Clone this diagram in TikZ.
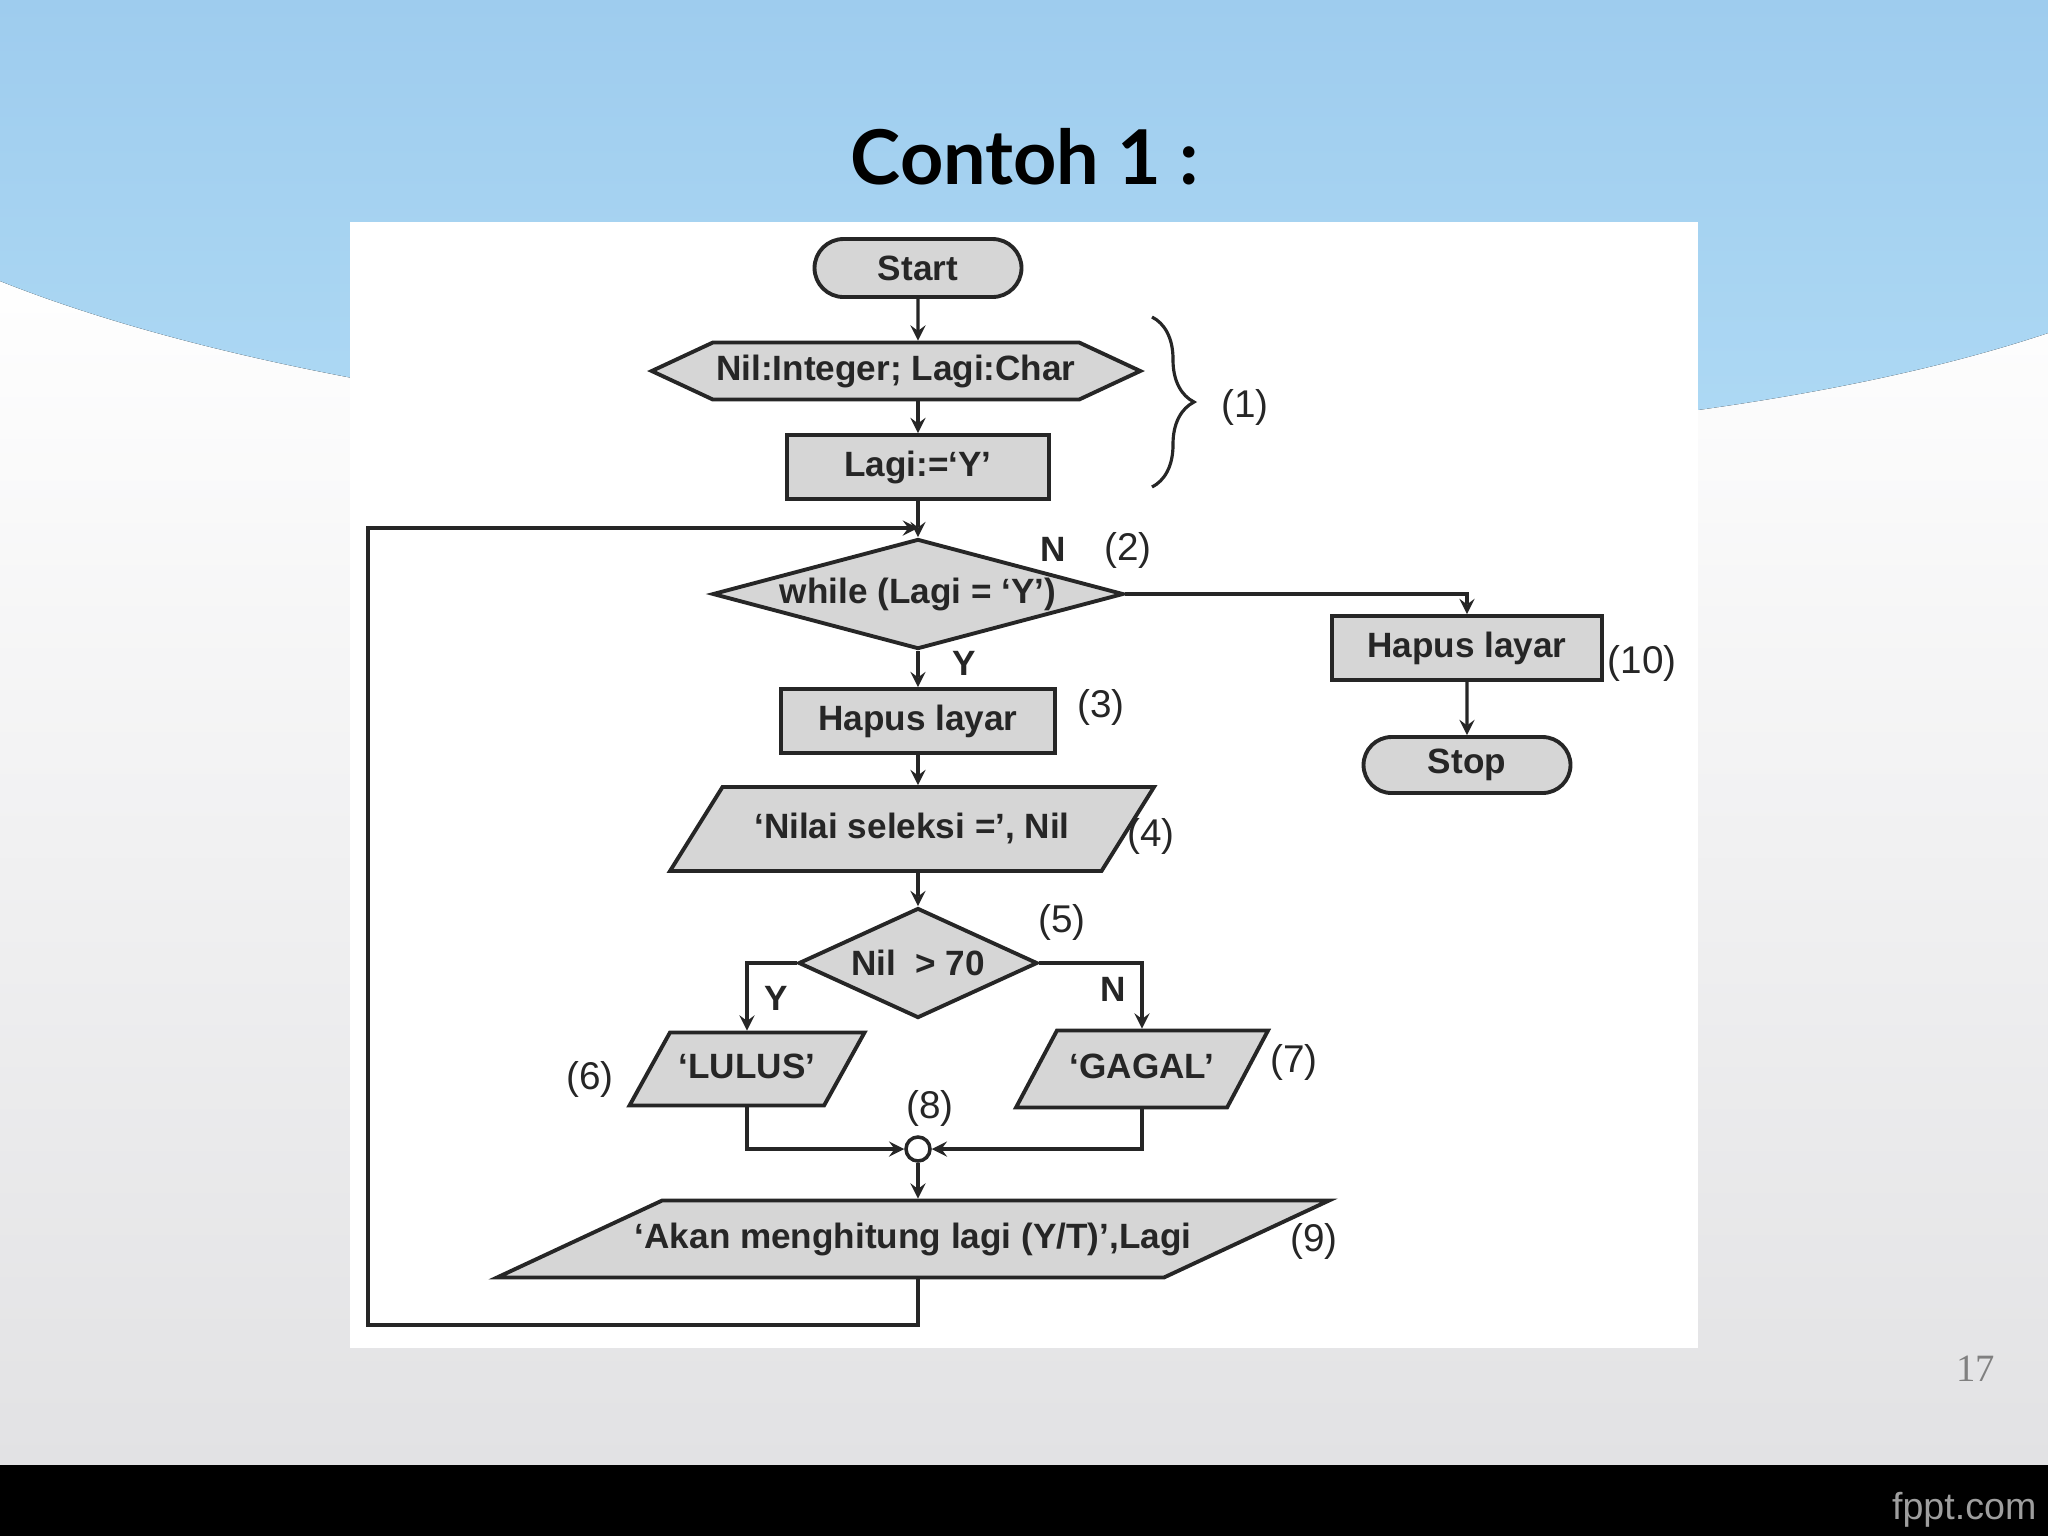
\documentclass[tikz,border=0pt]{standalone}
\usepackage{fontspec}
\setmainfont{Liberation Sans}
\newfontfamily\titlefont{Lato}
\newfontfamily\pagefont{Liberation Serif}
\usetikzlibrary{shapes.geometric,shapes.misc,shapes.symbols,decorations.pathreplacing}
\definecolor{skytop}{RGB}{158,204,238}
\definecolor{skylow}{RGB}{176,219,245}
\definecolor{slidegrey}{RGB}{226,226,228}
\definecolor{boxgrey}{RGB}{214,214,214}
\definecolor{ink}{RGB}{38,38,38}
\begin{document}
\begin{tikzpicture}[x=0.1mm,y=-0.1mm,>=stealth,
    every node/.style={text=ink},
    box/.style={draw=ink, line width=1.1pt, fill=boxgrey, inner sep=1pt,
        font=\fontsize{10}{12}\selectfont\bfseries},
    term/.style={box, rounded rectangle, minimum width=21.4mm, minimum height=5.8mm},
    proc/.style={box, rectangle, minimum width=#1, minimum height=6.4mm},
    prep/.style={box, signal, signal to=west and east, signal pointer angle=50,
        minimum width=48.8mm, minimum height=5.7mm},
    dec/.style={box, diamond, inner sep=0pt},
    io/.style={box, trapezium, trapezium stretches body=true,
        text height=2.6mm, text depth=0.7mm,
        trapezium left angle=#1, trapezium right angle=180-#1},
    flow/.style={draw=ink, line width=0.9pt},
    num/.style={font=\fontsize{11}{13}\selectfont},
    yn/.style={font=\fontsize{10}{12}\selectfont\bfseries}]
    % slide background
    \fill[top color=white, bottom color=slidegrey] (0,250) rectangle (2048,1465);
    \fill[top color=skytop, bottom color=skylow] (0,0) -- (2048,0) -- (2048,333)
        .. controls (1550,500) and (500,480) .. (0,281) -- cycle;
    \fill[white] (350,222) rectangle (1698,1348);
    \fill[black] (0,1465) rectangle (2048,1536);
    \node[anchor=base, font=\titlefont\bfseries\fontsize{21.5}{26}\selectfont, text=black]
        (title) at (1025,184) {Contoh 1 :};
    \node[anchor=base east, inner sep=0pt, font=\pagefont\fontsize{11}{13}\selectfont, text=black!50]
        (page) at (1996,1381) {17};
    \node[anchor=base east, inner sep=0pt, font=\fontsize{10.7}{13}\selectfont, text=black!38]
        (brand) at (2037,1519) {fppt.com};

    % flowchart
    \node[term] (start) at (918,268) {Start};
    \node[prep] (decl) at (896,371) {Nil:Integer; Lagi:Char};
    \node[proc=26.2mm] (init) at (918,467) {Lagi:=‘Y’};
    \coordinate (join) at (918,528);
    \node[dec, minimum width=41.1mm, minimum height=11mm,
        label={[font=\fontsize{10}{12}\selectfont\bfseries]center:while (Lagi = ‘Y’)}]
        (loop) at (918,594) {};
    \node[proc=27.4mm] (clr) at (918,721) {Hapus layar};
    \node[io=58, minimum width=48.4mm, inner ysep=2.55mm] (show) at (912,829)
        {‘Nilai seleksi =’, Nil};
    \node[dec, minimum width=23.9mm, minimum height=11mm,
        label={[font=\fontsize{10}{12}\selectfont\bfseries]center:Nil~ > 70}]
        (test) at (918,963) {};
    \node[io=61, minimum width=23.5mm, inner ysep=2mm] (lulus) at (747,1069) {‘LULUS’};
    \node[io=62, minimum width=25.2mm, inner ysep=2.2mm] (gagal) at (1142,1069) {‘GAGAL’};
    \node[circle, draw=ink, line width=1pt, fill=white, minimum size=2.4mm, inner sep=0pt]
        (merge) at (918,1149) {};
    \node[io=25, minimum width=83.2mm, inner ysep=2.2mm, inner xsep=-3mm] (ask) at (913,1239)
        {‘Akan menghitung lagi (Y/T)’,Lagi};
    \node[proc=27mm] (clrend) at (1467,648) {Hapus layar};
    \node[term, minimum height=5.6mm] (stop) at (1467,765) {Stop};
    \coordinate (loopA) at (368,1325);

    \draw[flow,->] (start) -- (start |- decl.north);
    \draw[flow,->] (start |- decl.south) -- (init);
    \draw[flow,->] (init) -- (loop);
    \draw[flow,->] (loop.east) -| (clrend.north);
    \draw[flow,->] (clrend) -- (stop);
    \draw[flow,->] (loop) -- (clr);
    \draw[flow,->] (clr) -- (clr |- show.north);
    \draw[flow,->] (clr |- show.south) -- (test);
    \draw[flow,->] (test.west) -| (lulus.north);
    \draw[flow,->] (test.east) -| (gagal.north);
    \draw[flow,->] (lulus.south) |- (merge.west);
    \draw[flow,->] (gagal.south) |- (merge.east);
    \draw[flow,->] (merge) -- (merge |- ask.north);
    \draw[flow,->] (merge |- ask.south) |- (loopA) |- (join);

    \draw[flow, decorate, decoration={brace, amplitude=4.2mm}] (1152,317) -- (1152,487);
    \node[num] (l1) at (1245,407) {(1)};
    \node[yn] (ln2) at (1053,549) {N};
    \node[num] (l2) at (1128,550) {(2)};
    \node[yn] (ly2) at (964,663) {Y};
    \node[num] (l3) at (1101,707) {(3)};
    \node[num] (l4) at (1151,836) {(4)};
    \node[num] (l5) at (1062,922) {(5)};
    \node[yn] (ly5) at (776,998) {Y};
    \node[yn] (ln5) at (1113,989) {N};
    \node[num] (l6) at (590,1079) {(6)};
    \node[num] (l7) at (1294,1062) {(7)};
    \node[num] (l8) at (930,1108) {(8)};
    \node[num] (l9) at (1314,1241) {(9)};
    \node[num] (l10) at (1642,663) {(10)};
    \useasboundingbox (0,0) rectangle (2048,1536);
\end{tikzpicture}
\end{document}
